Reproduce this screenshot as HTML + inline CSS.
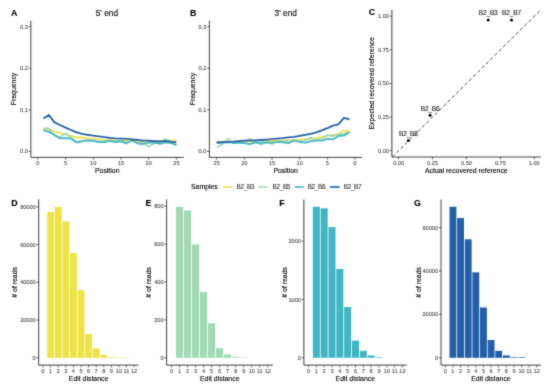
<!DOCTYPE html>
<html><head><meta charset="utf-8"><title>Figure</title>
<style>
html,body{margin:0;padding:0;background:#fff;width:550px;height:387px;overflow:hidden}
svg{display:block;font-family:"Liberation Sans", sans-serif}
</style></head><body>
<svg width="550" height="387" viewBox="0 0 550 387">
<defs><filter id="soft" x="-5%" y="-5%" width="110%" height="110%"><feConvolveMatrix order="3" kernelMatrix="1 2 1 2 16 2 1 2 1" preserveAlpha="false" edgeMode="duplicate"/></filter></defs>
<rect x="0" y="0" width="550" height="387" fill="#fff"/>
<g filter="url(#soft)">
<text x="11" y="15.5" font-size="8.8" text-anchor="start" fill="#000" stroke="#000" stroke-width="0.12" font-weight="bold">A</text>
<text x="106.9" y="15.5" font-size="8.3" text-anchor="middle" fill="#000" stroke="#000" stroke-width="0.12" font-weight="normal">5' end</text>
<polyline points="43.34,128.6 48.89,129.4 54.43,131.4 59.98,133 65.52,134.3 71.06,135.8 76.61,137.5 82.15,137.5 87.7,138.3 93.24,138.6 98.78,139.3 104.33,139.8 109.87,140.1 115.42,140.3 120.96,140.3 126.5,140.5 132.05,140.8 137.59,141 143.14,141.2 148.68,141.3 154.22,141.4 159.77,141.5 165.31,141 170.86,140.5 176.4,140.8" fill="none" stroke="#ECE344" stroke-width="1.8" stroke-linejoin="round" stroke-linecap="butt"/>
<polyline points="43.34,128.4 48.89,128.4 54.43,135.3 59.98,137.4 65.52,133.3 71.06,137.7 76.61,142 82.15,141 87.7,140.3 93.24,140.5 98.78,141.5 104.33,141 109.87,140.8 115.42,141.5 120.96,141 126.5,142 132.05,140.5 137.59,143 143.14,142.5 148.68,146.7 154.22,143.3 159.77,142.5 165.31,139 170.86,141.5 176.4,144" fill="none" stroke="#A1DAB4" stroke-width="1.8" stroke-linejoin="round" stroke-linecap="butt"/>
<polyline points="43.34,130.2 48.89,131.9 54.43,134.8 59.98,138.4 65.52,138.1 71.06,138.4 76.61,142.4 82.15,141.4 87.7,140.3 93.24,140.8 98.78,142.1 104.33,142 109.87,140.9 115.42,142 120.96,141.3 126.5,143.3 132.05,140.3 137.59,143.6 143.14,144 148.68,142.5 154.22,142.3 159.77,144 165.31,142.5 170.86,142.8 176.4,145.2" fill="none" stroke="#41B6C4" stroke-width="1.8" stroke-linejoin="round" stroke-linecap="butt"/>
<polyline points="43.34,118.5 48.89,115 54.43,122.4 59.98,125 65.52,127.6 71.06,130 76.61,132.4 82.15,133.8 87.7,134.8 93.24,135.7 98.78,136.4 104.33,137.2 109.87,138 115.42,138.4 120.96,138.6 126.5,138.8 132.05,139.4 137.59,140 143.14,140.6 148.68,140.7 154.22,141.1 159.77,141.5 165.31,140.9 170.86,141.7 176.4,142.1" fill="none" stroke="#225EA8" stroke-width="1.8" stroke-linejoin="round" stroke-linecap="butt"/>
<path d="M30.85 20.7V157.4H183.6" fill="none" stroke="#2b2b2b" stroke-width="0.9"/>
<line x1="28.65" y1="151.4" x2="30.85" y2="151.4" stroke="#333" stroke-width="0.8"/>
<text x="27.85" y="153.4" font-size="5.6" text-anchor="end" fill="#505050" stroke="#505050" stroke-width="0.12" font-weight="normal">0.0</text>
<line x1="28.65" y1="109.83" x2="30.85" y2="109.83" stroke="#333" stroke-width="0.8"/>
<text x="27.85" y="111.83" font-size="5.6" text-anchor="end" fill="#505050" stroke="#505050" stroke-width="0.12" font-weight="normal">0.1</text>
<line x1="28.65" y1="68.26" x2="30.85" y2="68.26" stroke="#333" stroke-width="0.8"/>
<text x="27.85" y="70.26" font-size="5.6" text-anchor="end" fill="#505050" stroke="#505050" stroke-width="0.12" font-weight="normal">0.2</text>
<line x1="28.65" y1="26.69" x2="30.85" y2="26.69" stroke="#333" stroke-width="0.8"/>
<text x="27.85" y="28.69" font-size="5.6" text-anchor="end" fill="#505050" stroke="#505050" stroke-width="0.12" font-weight="normal">0.3</text>
<line x1="37.8" y1="157.4" x2="37.8" y2="159.6" stroke="#333" stroke-width="0.8"/>
<text x="37.8" y="164.9" font-size="5.6" text-anchor="middle" fill="#505050" stroke="#505050" stroke-width="0.12" font-weight="normal">0</text>
<line x1="65.52" y1="157.4" x2="65.52" y2="159.6" stroke="#333" stroke-width="0.8"/>
<text x="65.52" y="164.9" font-size="5.6" text-anchor="middle" fill="#505050" stroke="#505050" stroke-width="0.12" font-weight="normal">5</text>
<line x1="93.24" y1="157.4" x2="93.24" y2="159.6" stroke="#333" stroke-width="0.8"/>
<text x="93.24" y="164.9" font-size="5.6" text-anchor="middle" fill="#505050" stroke="#505050" stroke-width="0.12" font-weight="normal">10</text>
<line x1="120.96" y1="157.4" x2="120.96" y2="159.6" stroke="#333" stroke-width="0.8"/>
<text x="120.96" y="164.9" font-size="5.6" text-anchor="middle" fill="#505050" stroke="#505050" stroke-width="0.12" font-weight="normal">15</text>
<line x1="148.68" y1="157.4" x2="148.68" y2="159.6" stroke="#333" stroke-width="0.8"/>
<text x="148.68" y="164.9" font-size="5.6" text-anchor="middle" fill="#505050" stroke="#505050" stroke-width="0.12" font-weight="normal">20</text>
<line x1="176.4" y1="157.4" x2="176.4" y2="159.6" stroke="#333" stroke-width="0.8"/>
<text x="176.4" y="164.9" font-size="5.6" text-anchor="middle" fill="#505050" stroke="#505050" stroke-width="0.12" font-weight="normal">25</text>
<text x="107.22" y="172.7" font-size="6.9" text-anchor="middle" fill="#000" stroke="#000" stroke-width="0.12" font-weight="normal">Position</text>
<text transform="translate(16.4 89) rotate(-90)" x="0" y="0" font-size="6.9" text-anchor="middle" fill="#000" stroke="#000" stroke-width="0.12">Frequency</text>
<text x="190" y="15.5" font-size="8.8" text-anchor="start" fill="#000" stroke="#000" stroke-width="0.12" font-weight="bold">B</text>
<text x="285.8" y="15.5" font-size="8.3" text-anchor="middle" fill="#000" stroke="#000" stroke-width="0.12" font-weight="normal">3' end</text>
<polyline points="216.7,142 222.23,142 227.76,141.8 233.3,141.7 238.83,141.6 244.36,141.5 249.89,141.5 255.42,141.5 260.96,141.4 266.49,141.2 272.02,141 277.55,140.7 283.08,140.5 288.62,140.3 294.15,140 299.68,139.7 305.21,139.4 310.74,138.8 316.28,138.1 321.81,137.2 327.34,136.2 332.87,134.9 338.4,133.9 343.94,130.4 349.47,131.3" fill="none" stroke="#ECE344" stroke-width="1.8" stroke-linejoin="round" stroke-linecap="butt"/>
<polyline points="216.7,147.5 222.23,144.3 227.76,138.8 233.3,143.2 238.83,142.5 244.36,141.8 249.89,139 255.42,141.5 260.96,142 266.49,141.5 272.02,143.8 277.55,141.5 283.08,141 288.62,141.2 294.15,140.7 299.68,141.3 305.21,140.3 310.74,137.5 316.28,140 321.81,138.8 327.34,134.9 332.87,136.2 338.4,134.2 343.94,133.8 349.47,131.7" fill="none" stroke="#A1DAB4" stroke-width="1.8" stroke-linejoin="round" stroke-linecap="butt"/>
<polyline points="216.7,142.8 222.23,142.8 227.76,142 233.3,142.8 238.83,142.8 244.36,143.2 249.89,144.1 255.42,142.3 260.96,143.8 266.49,142.3 272.02,142.7 277.55,141.8 283.08,142.3 288.62,143.2 294.15,140.3 299.68,142 305.21,142.6 310.74,141.1 316.28,140.7 321.81,140.7 327.34,138.8 332.87,139.4 338.4,135.9 343.94,135.5 349.47,132.3" fill="none" stroke="#41B6C4" stroke-width="1.8" stroke-linejoin="round" stroke-linecap="butt"/>
<polyline points="216.7,142.5 222.23,142.2 227.76,141.9 233.3,141.6 238.83,141.1 244.36,140.6 249.89,140.5 255.42,140.3 260.96,140 266.49,139.6 272.02,139.1 277.55,138.7 283.08,138.2 288.62,137.4 294.15,136.8 299.68,135.9 305.21,134.9 310.74,133.9 316.28,132.3 321.81,130.4 327.34,128.2 332.87,125.6 338.4,124.3 343.94,117.8 349.47,119.4" fill="none" stroke="#225EA8" stroke-width="1.8" stroke-linejoin="round" stroke-linecap="butt"/>
<path d="M209.4 20.7V157.4H362" fill="none" stroke="#2b2b2b" stroke-width="0.9"/>
<line x1="207.2" y1="151.4" x2="209.4" y2="151.4" stroke="#333" stroke-width="0.8"/>
<text x="206.4" y="153.4" font-size="5.6" text-anchor="end" fill="#505050" stroke="#505050" stroke-width="0.12" font-weight="normal">0.0</text>
<line x1="207.2" y1="109.83" x2="209.4" y2="109.83" stroke="#333" stroke-width="0.8"/>
<text x="206.4" y="111.83" font-size="5.6" text-anchor="end" fill="#505050" stroke="#505050" stroke-width="0.12" font-weight="normal">0.1</text>
<line x1="207.2" y1="68.26" x2="209.4" y2="68.26" stroke="#333" stroke-width="0.8"/>
<text x="206.4" y="70.26" font-size="5.6" text-anchor="end" fill="#505050" stroke="#505050" stroke-width="0.12" font-weight="normal">0.2</text>
<line x1="207.2" y1="26.69" x2="209.4" y2="26.69" stroke="#333" stroke-width="0.8"/>
<text x="206.4" y="28.69" font-size="5.6" text-anchor="end" fill="#505050" stroke="#505050" stroke-width="0.12" font-weight="normal">0.3</text>
<line x1="355" y1="157.4" x2="355" y2="159.6" stroke="#333" stroke-width="0.8"/>
<text x="355" y="164.9" font-size="5.6" text-anchor="middle" fill="#505050" stroke="#505050" stroke-width="0.12" font-weight="normal">0</text>
<line x1="327.34" y1="157.4" x2="327.34" y2="159.6" stroke="#333" stroke-width="0.8"/>
<text x="327.34" y="164.9" font-size="5.6" text-anchor="middle" fill="#505050" stroke="#505050" stroke-width="0.12" font-weight="normal">5</text>
<line x1="299.68" y1="157.4" x2="299.68" y2="159.6" stroke="#333" stroke-width="0.8"/>
<text x="299.68" y="164.9" font-size="5.6" text-anchor="middle" fill="#505050" stroke="#505050" stroke-width="0.12" font-weight="normal">10</text>
<line x1="272.02" y1="157.4" x2="272.02" y2="159.6" stroke="#333" stroke-width="0.8"/>
<text x="272.02" y="164.9" font-size="5.6" text-anchor="middle" fill="#505050" stroke="#505050" stroke-width="0.12" font-weight="normal">15</text>
<line x1="244.36" y1="157.4" x2="244.36" y2="159.6" stroke="#333" stroke-width="0.8"/>
<text x="244.36" y="164.9" font-size="5.6" text-anchor="middle" fill="#505050" stroke="#505050" stroke-width="0.12" font-weight="normal">20</text>
<line x1="216.7" y1="157.4" x2="216.7" y2="159.6" stroke="#333" stroke-width="0.8"/>
<text x="216.7" y="164.9" font-size="5.6" text-anchor="middle" fill="#505050" stroke="#505050" stroke-width="0.12" font-weight="normal">25</text>
<text x="285.7" y="172.7" font-size="6.9" text-anchor="middle" fill="#000" stroke="#000" stroke-width="0.12" font-weight="normal">Position</text>
<text transform="translate(195 89) rotate(-90)" x="0" y="0" font-size="6.9" text-anchor="middle" fill="#000" stroke="#000" stroke-width="0.12">Frequency</text>
<text x="368.8" y="15.2" font-size="8.8" text-anchor="start" fill="#000" stroke="#000" stroke-width="0.12" font-weight="bold">C</text>
<line x1="392.24" y1="157" x2="540.76" y2="9.8" stroke="#404040" stroke-width="0.95" stroke-dasharray="3.5 2.5"/>
<circle cx="488.2" cy="20" r="1.5" fill="#000"/>
<text x="488.2" y="15.2" font-size="6.5" text-anchor="middle" fill="#222" stroke="#222" stroke-width="0.12" font-weight="normal" letter-spacing="-0.15">B2_B3</text>
<circle cx="511.5" cy="20" r="1.5" fill="#000"/>
<text x="511.5" y="15.2" font-size="6.5" text-anchor="middle" fill="#222" stroke="#222" stroke-width="0.12" font-weight="normal" letter-spacing="-0.15">B2_B7</text>
<circle cx="430.1" cy="115.3" r="1.5" fill="#000"/>
<text x="430.1" y="110.5" font-size="6.5" text-anchor="middle" fill="#222" stroke="#222" stroke-width="0.12" font-weight="normal" letter-spacing="-0.15">B2_B6</text>
<circle cx="408.4" cy="140.5" r="1.5" fill="#000"/>
<text x="408.4" y="135.7" font-size="6.5" text-anchor="middle" fill="#222" stroke="#222" stroke-width="0.12" font-weight="normal" letter-spacing="-0.15">B2_B8</text>
<path d="M391.9 9.8V157H540.8" fill="none" stroke="#2b2b2b" stroke-width="0.9"/>
<line x1="389.7" y1="150.7" x2="391.9" y2="150.7" stroke="#333" stroke-width="0.8"/>
<text x="388.9" y="152.7" font-size="5.6" text-anchor="end" fill="#505050" stroke="#505050" stroke-width="0.12" font-weight="normal">0.00</text>
<line x1="389.7" y1="117.07" x2="391.9" y2="117.07" stroke="#333" stroke-width="0.8"/>
<text x="388.9" y="119.07" font-size="5.6" text-anchor="end" fill="#505050" stroke="#505050" stroke-width="0.12" font-weight="normal">0.25</text>
<line x1="389.7" y1="83.45" x2="391.9" y2="83.45" stroke="#333" stroke-width="0.8"/>
<text x="388.9" y="85.45" font-size="5.6" text-anchor="end" fill="#505050" stroke="#505050" stroke-width="0.12" font-weight="normal">0.50</text>
<line x1="389.7" y1="49.82" x2="391.9" y2="49.82" stroke="#333" stroke-width="0.8"/>
<text x="388.9" y="51.82" font-size="5.6" text-anchor="end" fill="#505050" stroke="#505050" stroke-width="0.12" font-weight="normal">0.75</text>
<line x1="389.7" y1="16.2" x2="391.9" y2="16.2" stroke="#333" stroke-width="0.8"/>
<text x="388.9" y="18.2" font-size="5.6" text-anchor="end" fill="#505050" stroke="#505050" stroke-width="0.12" font-weight="normal">1.00</text>
<line x1="398.6" y1="157" x2="398.6" y2="159.2" stroke="#333" stroke-width="0.8"/>
<text x="398.6" y="164.9" font-size="5.6" text-anchor="middle" fill="#505050" stroke="#505050" stroke-width="0.12" font-weight="normal">0.00</text>
<line x1="432.53" y1="157" x2="432.53" y2="159.2" stroke="#333" stroke-width="0.8"/>
<text x="432.53" y="164.9" font-size="5.6" text-anchor="middle" fill="#505050" stroke="#505050" stroke-width="0.12" font-weight="normal">0.25</text>
<line x1="466.45" y1="157" x2="466.45" y2="159.2" stroke="#333" stroke-width="0.8"/>
<text x="466.45" y="164.9" font-size="5.6" text-anchor="middle" fill="#505050" stroke="#505050" stroke-width="0.12" font-weight="normal">0.50</text>
<line x1="500.38" y1="157" x2="500.38" y2="159.2" stroke="#333" stroke-width="0.8"/>
<text x="500.38" y="164.9" font-size="5.6" text-anchor="middle" fill="#505050" stroke="#505050" stroke-width="0.12" font-weight="normal">0.75</text>
<line x1="534.3" y1="157" x2="534.3" y2="159.2" stroke="#333" stroke-width="0.8"/>
<text x="534.3" y="164.9" font-size="5.6" text-anchor="middle" fill="#505050" stroke="#505050" stroke-width="0.12" font-weight="normal">1.00</text>
<text x="466.35" y="173" font-size="6.9" text-anchor="middle" fill="#000" stroke="#000" stroke-width="0.12" font-weight="normal">Actual recovered reference</text>
<text transform="translate(374 83.4) rotate(-90)" x="0" y="0" font-size="6.9" text-anchor="middle" fill="#000" stroke="#000" stroke-width="0.12">Expected recovered reference</text>
<text x="191" y="189.2" font-size="6.9" text-anchor="start" fill="#000" stroke="#000" stroke-width="0.12" font-weight="normal">Samples</text>
<line x1="223" y1="187" x2="232.1" y2="187" stroke="#ECE344" stroke-width="1.6"/>
<text x="236.6" y="189.1" font-size="6.3" text-anchor="start" fill="#333" stroke="#333" stroke-width="0.12" font-weight="normal" letter-spacing="-0.3">B2_B3</text>
<line x1="258.5" y1="187" x2="267.7" y2="187" stroke="#A1DAB4" stroke-width="1.6"/>
<text x="272.6" y="189.1" font-size="6.3" text-anchor="start" fill="#333" stroke="#333" stroke-width="0.12" font-weight="normal" letter-spacing="-0.3">B2_B5</text>
<line x1="294.7" y1="187" x2="303.8" y2="187" stroke="#41B6C4" stroke-width="1.6"/>
<text x="307.7" y="189.1" font-size="6.3" text-anchor="start" fill="#333" stroke="#333" stroke-width="0.12" font-weight="normal" letter-spacing="-0.3">B2_B6</text>
<line x1="330" y1="187" x2="339.5" y2="187" stroke="#225EA8" stroke-width="1.6"/>
<text x="343.8" y="189.1" font-size="6.3" text-anchor="start" fill="#333" stroke="#333" stroke-width="0.12" font-weight="normal" letter-spacing="-0.3">B2_B7</text>
<text x="11.2" y="205.6" font-size="8.8" text-anchor="start" fill="#000" stroke="#000" stroke-width="0.12" font-weight="bold">D</text>
<rect x="47.27" y="211.99" width="6.82" height="145.81" fill="#ECE344"/>
<rect x="54.85" y="206.9" width="6.82" height="150.9" fill="#ECE344"/>
<rect x="62.44" y="221.42" width="6.82" height="136.38" fill="#ECE344"/>
<rect x="70.02" y="253.11" width="6.82" height="104.69" fill="#ECE344"/>
<rect x="77.6" y="290.27" width="6.82" height="67.53" fill="#ECE344"/>
<rect x="85.19" y="334.03" width="6.82" height="23.77" fill="#ECE344"/>
<rect x="92.77" y="348.37" width="6.82" height="9.43" fill="#ECE344"/>
<rect x="100.35" y="354.97" width="6.82" height="2.83" fill="#ECE344"/>
<rect x="107.93" y="357.05" width="6.82" height="0.75" fill="#ECE344"/>
<rect x="115.52" y="357.42" width="6.82" height="0.38" fill="#ECE344"/>
<rect x="123.1" y="357.52" width="6.82" height="0.3" fill="#ECE344"/>
<path d="M38.7 199.6V365.1H138.4" fill="none" stroke="#2b2b2b" stroke-width="0.9"/>
<line x1="36.5" y1="357.8" x2="38.7" y2="357.8" stroke="#333" stroke-width="0.8"/>
<text x="35.7" y="359.8" font-size="5.6" text-anchor="end" fill="#505050" stroke="#505050" stroke-width="0.12" font-weight="normal">0</text>
<line x1="36.5" y1="320.07" x2="38.7" y2="320.07" stroke="#333" stroke-width="0.8"/>
<text x="35.7" y="322.07" font-size="5.6" text-anchor="end" fill="#505050" stroke="#505050" stroke-width="0.12" font-weight="normal">20000</text>
<line x1="36.5" y1="282.35" x2="38.7" y2="282.35" stroke="#333" stroke-width="0.8"/>
<text x="35.7" y="284.35" font-size="5.6" text-anchor="end" fill="#505050" stroke="#505050" stroke-width="0.12" font-weight="normal">40000</text>
<line x1="36.5" y1="244.62" x2="38.7" y2="244.62" stroke="#333" stroke-width="0.8"/>
<text x="35.7" y="246.62" font-size="5.6" text-anchor="end" fill="#505050" stroke="#505050" stroke-width="0.12" font-weight="normal">60000</text>
<line x1="36.5" y1="206.9" x2="38.7" y2="206.9" stroke="#333" stroke-width="0.8"/>
<text x="35.7" y="208.9" font-size="5.6" text-anchor="end" fill="#505050" stroke="#505050" stroke-width="0.12" font-weight="normal">80000</text>
<line x1="43.1" y1="365.1" x2="43.1" y2="367.3" stroke="#333" stroke-width="0.8"/>
<text x="43.1" y="372.6" font-size="5.6" text-anchor="middle" fill="#505050" stroke="#505050" stroke-width="0.12" font-weight="normal">0</text>
<line x1="50.68" y1="365.1" x2="50.68" y2="367.3" stroke="#333" stroke-width="0.8"/>
<text x="50.68" y="372.6" font-size="5.6" text-anchor="middle" fill="#505050" stroke="#505050" stroke-width="0.12" font-weight="normal">1</text>
<line x1="58.27" y1="365.1" x2="58.27" y2="367.3" stroke="#333" stroke-width="0.8"/>
<text x="58.27" y="372.6" font-size="5.6" text-anchor="middle" fill="#505050" stroke="#505050" stroke-width="0.12" font-weight="normal">2</text>
<line x1="65.85" y1="365.1" x2="65.85" y2="367.3" stroke="#333" stroke-width="0.8"/>
<text x="65.85" y="372.6" font-size="5.6" text-anchor="middle" fill="#505050" stroke="#505050" stroke-width="0.12" font-weight="normal">3</text>
<line x1="73.43" y1="365.1" x2="73.43" y2="367.3" stroke="#333" stroke-width="0.8"/>
<text x="73.43" y="372.6" font-size="5.6" text-anchor="middle" fill="#505050" stroke="#505050" stroke-width="0.12" font-weight="normal">4</text>
<line x1="81.02" y1="365.1" x2="81.02" y2="367.3" stroke="#333" stroke-width="0.8"/>
<text x="81.02" y="372.6" font-size="5.6" text-anchor="middle" fill="#505050" stroke="#505050" stroke-width="0.12" font-weight="normal">5</text>
<line x1="88.6" y1="365.1" x2="88.6" y2="367.3" stroke="#333" stroke-width="0.8"/>
<text x="88.6" y="372.6" font-size="5.6" text-anchor="middle" fill="#505050" stroke="#505050" stroke-width="0.12" font-weight="normal">6</text>
<line x1="96.18" y1="365.1" x2="96.18" y2="367.3" stroke="#333" stroke-width="0.8"/>
<text x="96.18" y="372.6" font-size="5.6" text-anchor="middle" fill="#505050" stroke="#505050" stroke-width="0.12" font-weight="normal">7</text>
<line x1="103.76" y1="365.1" x2="103.76" y2="367.3" stroke="#333" stroke-width="0.8"/>
<text x="103.76" y="372.6" font-size="5.6" text-anchor="middle" fill="#505050" stroke="#505050" stroke-width="0.12" font-weight="normal">8</text>
<line x1="111.35" y1="365.1" x2="111.35" y2="367.3" stroke="#333" stroke-width="0.8"/>
<text x="111.35" y="372.6" font-size="5.6" text-anchor="middle" fill="#505050" stroke="#505050" stroke-width="0.12" font-weight="normal">9</text>
<line x1="118.93" y1="365.1" x2="118.93" y2="367.3" stroke="#333" stroke-width="0.8"/>
<text x="118.93" y="372.6" font-size="5.6" text-anchor="middle" fill="#505050" stroke="#505050" stroke-width="0.12" font-weight="normal">10</text>
<line x1="126.51" y1="365.1" x2="126.51" y2="367.3" stroke="#333" stroke-width="0.8"/>
<text x="126.51" y="372.6" font-size="5.6" text-anchor="middle" fill="#505050" stroke="#505050" stroke-width="0.12" font-weight="normal">11</text>
<line x1="134.1" y1="365.1" x2="134.1" y2="367.3" stroke="#333" stroke-width="0.8"/>
<text x="134.1" y="372.6" font-size="5.6" text-anchor="middle" fill="#505050" stroke="#505050" stroke-width="0.12" font-weight="normal">12</text>
<text x="88.55" y="381" font-size="6.9" text-anchor="middle" fill="#000" stroke="#000" stroke-width="0.12" font-weight="normal">Edit distance</text>
<text transform="translate(17.4 282.35) rotate(-90)" x="0" y="0" font-size="6.9" text-anchor="middle" fill="#000" stroke="#000" stroke-width="0.12"># of reads</text>
<text x="145.6" y="205.6" font-size="8.8" text-anchor="start" fill="#000" stroke="#000" stroke-width="0.12" font-weight="bold">E</text>
<rect x="175.91" y="206.77" width="7.22" height="151.03" fill="#A1DAB4"/>
<rect x="183.94" y="210.37" width="7.22" height="147.43" fill="#A1DAB4"/>
<rect x="191.96" y="244.48" width="7.22" height="113.32" fill="#A1DAB4"/>
<rect x="199.99" y="291.85" width="7.22" height="65.95" fill="#A1DAB4"/>
<rect x="208.01" y="323.31" width="7.22" height="34.49" fill="#A1DAB4"/>
<rect x="216.04" y="348.14" width="7.22" height="9.66" fill="#A1DAB4"/>
<rect x="224.06" y="354.39" width="7.22" height="3.41" fill="#A1DAB4"/>
<rect x="232.09" y="356.85" width="7.22" height="0.95" fill="#A1DAB4"/>
<rect x="240.11" y="357.42" width="7.22" height="0.38" fill="#A1DAB4"/>
<path d="M166.6 199.6V365.1H272.9" fill="none" stroke="#2b2b2b" stroke-width="0.9"/>
<line x1="164.4" y1="357.8" x2="166.6" y2="357.8" stroke="#333" stroke-width="0.8"/>
<text x="163.6" y="359.8" font-size="5.6" text-anchor="end" fill="#505050" stroke="#505050" stroke-width="0.12" font-weight="normal">0</text>
<line x1="164.4" y1="319.9" x2="166.6" y2="319.9" stroke="#333" stroke-width="0.8"/>
<text x="163.6" y="321.9" font-size="5.6" text-anchor="end" fill="#505050" stroke="#505050" stroke-width="0.12" font-weight="normal">200</text>
<line x1="164.4" y1="282" x2="166.6" y2="282" stroke="#333" stroke-width="0.8"/>
<text x="163.6" y="284" font-size="5.6" text-anchor="end" fill="#505050" stroke="#505050" stroke-width="0.12" font-weight="normal">400</text>
<line x1="164.4" y1="244.1" x2="166.6" y2="244.1" stroke="#333" stroke-width="0.8"/>
<text x="163.6" y="246.1" font-size="5.6" text-anchor="end" fill="#505050" stroke="#505050" stroke-width="0.12" font-weight="normal">600</text>
<line x1="164.4" y1="206.2" x2="166.6" y2="206.2" stroke="#333" stroke-width="0.8"/>
<text x="163.6" y="208.2" font-size="5.6" text-anchor="end" fill="#505050" stroke="#505050" stroke-width="0.12" font-weight="normal">800</text>
<line x1="171.5" y1="365.1" x2="171.5" y2="367.3" stroke="#333" stroke-width="0.8"/>
<text x="171.5" y="372.6" font-size="5.6" text-anchor="middle" fill="#505050" stroke="#505050" stroke-width="0.12" font-weight="normal">0</text>
<line x1="179.53" y1="365.1" x2="179.53" y2="367.3" stroke="#333" stroke-width="0.8"/>
<text x="179.53" y="372.6" font-size="5.6" text-anchor="middle" fill="#505050" stroke="#505050" stroke-width="0.12" font-weight="normal">1</text>
<line x1="187.55" y1="365.1" x2="187.55" y2="367.3" stroke="#333" stroke-width="0.8"/>
<text x="187.55" y="372.6" font-size="5.6" text-anchor="middle" fill="#505050" stroke="#505050" stroke-width="0.12" font-weight="normal">2</text>
<line x1="195.57" y1="365.1" x2="195.57" y2="367.3" stroke="#333" stroke-width="0.8"/>
<text x="195.57" y="372.6" font-size="5.6" text-anchor="middle" fill="#505050" stroke="#505050" stroke-width="0.12" font-weight="normal">3</text>
<line x1="203.6" y1="365.1" x2="203.6" y2="367.3" stroke="#333" stroke-width="0.8"/>
<text x="203.6" y="372.6" font-size="5.6" text-anchor="middle" fill="#505050" stroke="#505050" stroke-width="0.12" font-weight="normal">4</text>
<line x1="211.62" y1="365.1" x2="211.62" y2="367.3" stroke="#333" stroke-width="0.8"/>
<text x="211.62" y="372.6" font-size="5.6" text-anchor="middle" fill="#505050" stroke="#505050" stroke-width="0.12" font-weight="normal">5</text>
<line x1="219.65" y1="365.1" x2="219.65" y2="367.3" stroke="#333" stroke-width="0.8"/>
<text x="219.65" y="372.6" font-size="5.6" text-anchor="middle" fill="#505050" stroke="#505050" stroke-width="0.12" font-weight="normal">6</text>
<line x1="227.68" y1="365.1" x2="227.68" y2="367.3" stroke="#333" stroke-width="0.8"/>
<text x="227.68" y="372.6" font-size="5.6" text-anchor="middle" fill="#505050" stroke="#505050" stroke-width="0.12" font-weight="normal">7</text>
<line x1="235.7" y1="365.1" x2="235.7" y2="367.3" stroke="#333" stroke-width="0.8"/>
<text x="235.7" y="372.6" font-size="5.6" text-anchor="middle" fill="#505050" stroke="#505050" stroke-width="0.12" font-weight="normal">8</text>
<line x1="243.73" y1="365.1" x2="243.73" y2="367.3" stroke="#333" stroke-width="0.8"/>
<text x="243.73" y="372.6" font-size="5.6" text-anchor="middle" fill="#505050" stroke="#505050" stroke-width="0.12" font-weight="normal">9</text>
<line x1="251.75" y1="365.1" x2="251.75" y2="367.3" stroke="#333" stroke-width="0.8"/>
<text x="251.75" y="372.6" font-size="5.6" text-anchor="middle" fill="#505050" stroke="#505050" stroke-width="0.12" font-weight="normal">10</text>
<line x1="259.77" y1="365.1" x2="259.77" y2="367.3" stroke="#333" stroke-width="0.8"/>
<text x="259.77" y="372.6" font-size="5.6" text-anchor="middle" fill="#505050" stroke="#505050" stroke-width="0.12" font-weight="normal">11</text>
<line x1="267.8" y1="365.1" x2="267.8" y2="367.3" stroke="#333" stroke-width="0.8"/>
<text x="267.8" y="372.6" font-size="5.6" text-anchor="middle" fill="#505050" stroke="#505050" stroke-width="0.12" font-weight="normal">12</text>
<text x="219.75" y="381" font-size="6.9" text-anchor="middle" fill="#000" stroke="#000" stroke-width="0.12" font-weight="normal">Edit distance</text>
<text transform="translate(151.4 282.35) rotate(-90)" x="0" y="0" font-size="6.9" text-anchor="middle" fill="#000" stroke="#000" stroke-width="0.12"># of reads</text>
<text x="279.3" y="205.6" font-size="8.8" text-anchor="start" fill="#000" stroke="#000" stroke-width="0.12" font-weight="bold">F</text>
<rect x="312.81" y="206.8" width="7.05" height="151" fill="#41B6C4"/>
<rect x="320.64" y="208.32" width="7.05" height="149.48" fill="#41B6C4"/>
<rect x="328.47" y="227.09" width="7.05" height="130.71" fill="#41B6C4"/>
<rect x="336.3" y="268.89" width="7.05" height="88.91" fill="#41B6C4"/>
<rect x="344.13" y="307.02" width="7.05" height="50.78" fill="#41B6C4"/>
<rect x="351.96" y="340.6" width="7.05" height="17.2" fill="#41B6C4"/>
<rect x="359.79" y="350.8" width="7.05" height="7" fill="#41B6C4"/>
<rect x="367.62" y="355.41" width="7.05" height="2.39" fill="#41B6C4"/>
<rect x="375.45" y="357.22" width="7.05" height="0.58" fill="#41B6C4"/>
<path d="M303.9 199.6V365.1H406.7" fill="none" stroke="#2b2b2b" stroke-width="0.9"/>
<line x1="301.7" y1="357.8" x2="303.9" y2="357.8" stroke="#333" stroke-width="0.8"/>
<text x="300.9" y="359.8" font-size="5.6" text-anchor="end" fill="#505050" stroke="#505050" stroke-width="0.12" font-weight="normal">0</text>
<line x1="301.7" y1="299.5" x2="303.9" y2="299.5" stroke="#333" stroke-width="0.8"/>
<text x="300.9" y="301.5" font-size="5.6" text-anchor="end" fill="#505050" stroke="#505050" stroke-width="0.12" font-weight="normal">1000</text>
<line x1="301.7" y1="241.2" x2="303.9" y2="241.2" stroke="#333" stroke-width="0.8"/>
<text x="300.9" y="243.2" font-size="5.6" text-anchor="end" fill="#505050" stroke="#505050" stroke-width="0.12" font-weight="normal">2000</text>
<line x1="308.5" y1="365.1" x2="308.5" y2="367.3" stroke="#333" stroke-width="0.8"/>
<text x="308.5" y="372.6" font-size="5.6" text-anchor="middle" fill="#505050" stroke="#505050" stroke-width="0.12" font-weight="normal">0</text>
<line x1="316.33" y1="365.1" x2="316.33" y2="367.3" stroke="#333" stroke-width="0.8"/>
<text x="316.33" y="372.6" font-size="5.6" text-anchor="middle" fill="#505050" stroke="#505050" stroke-width="0.12" font-weight="normal">1</text>
<line x1="324.16" y1="365.1" x2="324.16" y2="367.3" stroke="#333" stroke-width="0.8"/>
<text x="324.16" y="372.6" font-size="5.6" text-anchor="middle" fill="#505050" stroke="#505050" stroke-width="0.12" font-weight="normal">2</text>
<line x1="331.99" y1="365.1" x2="331.99" y2="367.3" stroke="#333" stroke-width="0.8"/>
<text x="331.99" y="372.6" font-size="5.6" text-anchor="middle" fill="#505050" stroke="#505050" stroke-width="0.12" font-weight="normal">3</text>
<line x1="339.82" y1="365.1" x2="339.82" y2="367.3" stroke="#333" stroke-width="0.8"/>
<text x="339.82" y="372.6" font-size="5.6" text-anchor="middle" fill="#505050" stroke="#505050" stroke-width="0.12" font-weight="normal">4</text>
<line x1="347.65" y1="365.1" x2="347.65" y2="367.3" stroke="#333" stroke-width="0.8"/>
<text x="347.65" y="372.6" font-size="5.6" text-anchor="middle" fill="#505050" stroke="#505050" stroke-width="0.12" font-weight="normal">5</text>
<line x1="355.48" y1="365.1" x2="355.48" y2="367.3" stroke="#333" stroke-width="0.8"/>
<text x="355.48" y="372.6" font-size="5.6" text-anchor="middle" fill="#505050" stroke="#505050" stroke-width="0.12" font-weight="normal">6</text>
<line x1="363.31" y1="365.1" x2="363.31" y2="367.3" stroke="#333" stroke-width="0.8"/>
<text x="363.31" y="372.6" font-size="5.6" text-anchor="middle" fill="#505050" stroke="#505050" stroke-width="0.12" font-weight="normal">7</text>
<line x1="371.14" y1="365.1" x2="371.14" y2="367.3" stroke="#333" stroke-width="0.8"/>
<text x="371.14" y="372.6" font-size="5.6" text-anchor="middle" fill="#505050" stroke="#505050" stroke-width="0.12" font-weight="normal">8</text>
<line x1="378.97" y1="365.1" x2="378.97" y2="367.3" stroke="#333" stroke-width="0.8"/>
<text x="378.97" y="372.6" font-size="5.6" text-anchor="middle" fill="#505050" stroke="#505050" stroke-width="0.12" font-weight="normal">9</text>
<line x1="386.8" y1="365.1" x2="386.8" y2="367.3" stroke="#333" stroke-width="0.8"/>
<text x="386.8" y="372.6" font-size="5.6" text-anchor="middle" fill="#505050" stroke="#505050" stroke-width="0.12" font-weight="normal">10</text>
<line x1="394.63" y1="365.1" x2="394.63" y2="367.3" stroke="#333" stroke-width="0.8"/>
<text x="394.63" y="372.6" font-size="5.6" text-anchor="middle" fill="#505050" stroke="#505050" stroke-width="0.12" font-weight="normal">11</text>
<line x1="402.46" y1="365.1" x2="402.46" y2="367.3" stroke="#333" stroke-width="0.8"/>
<text x="402.46" y="372.6" font-size="5.6" text-anchor="middle" fill="#505050" stroke="#505050" stroke-width="0.12" font-weight="normal">12</text>
<text x="355.3" y="381" font-size="6.9" text-anchor="middle" fill="#000" stroke="#000" stroke-width="0.12" font-weight="normal">Edit distance</text>
<text transform="translate(287.4 282.35) rotate(-90)" x="0" y="0" font-size="6.9" text-anchor="middle" fill="#000" stroke="#000" stroke-width="0.12"># of reads</text>
<text x="414" y="205.6" font-size="8.8" text-anchor="start" fill="#000" stroke="#000" stroke-width="0.12" font-weight="bold">G</text>
<rect x="449.5" y="206.77" width="6.87" height="151.03" fill="#225EA8"/>
<rect x="457.13" y="218.05" width="6.87" height="139.75" fill="#225EA8"/>
<rect x="464.76" y="239.32" width="6.87" height="118.48" fill="#225EA8"/>
<rect x="472.39" y="272.3" width="6.87" height="85.5" fill="#225EA8"/>
<rect x="480.02" y="307.46" width="6.87" height="50.34" fill="#225EA8"/>
<rect x="487.65" y="340.01" width="6.87" height="17.79" fill="#225EA8"/>
<rect x="495.28" y="350.86" width="6.87" height="6.94" fill="#225EA8"/>
<rect x="502.91" y="355.41" width="6.87" height="2.39" fill="#225EA8"/>
<rect x="510.54" y="357.15" width="6.87" height="0.65" fill="#225EA8"/>
<rect x="518.17" y="357.15" width="6.87" height="0.65" fill="#225EA8"/>
<path d="M441 199.6V365.1H540.9" fill="none" stroke="#2b2b2b" stroke-width="0.9"/>
<line x1="438.8" y1="357.8" x2="441" y2="357.8" stroke="#333" stroke-width="0.8"/>
<text x="438" y="359.8" font-size="5.6" text-anchor="end" fill="#505050" stroke="#505050" stroke-width="0.12" font-weight="normal">0</text>
<line x1="438.8" y1="314.4" x2="441" y2="314.4" stroke="#333" stroke-width="0.8"/>
<text x="438" y="316.4" font-size="5.6" text-anchor="end" fill="#505050" stroke="#505050" stroke-width="0.12" font-weight="normal">20000</text>
<line x1="438.8" y1="271" x2="441" y2="271" stroke="#333" stroke-width="0.8"/>
<text x="438" y="273" font-size="5.6" text-anchor="end" fill="#505050" stroke="#505050" stroke-width="0.12" font-weight="normal">40000</text>
<line x1="438.8" y1="227.6" x2="441" y2="227.6" stroke="#333" stroke-width="0.8"/>
<text x="438" y="229.6" font-size="5.6" text-anchor="end" fill="#505050" stroke="#505050" stroke-width="0.12" font-weight="normal">60000</text>
<line x1="445.3" y1="365.1" x2="445.3" y2="367.3" stroke="#333" stroke-width="0.8"/>
<text x="445.3" y="372.6" font-size="5.6" text-anchor="middle" fill="#505050" stroke="#505050" stroke-width="0.12" font-weight="normal">0</text>
<line x1="452.93" y1="365.1" x2="452.93" y2="367.3" stroke="#333" stroke-width="0.8"/>
<text x="452.93" y="372.6" font-size="5.6" text-anchor="middle" fill="#505050" stroke="#505050" stroke-width="0.12" font-weight="normal">1</text>
<line x1="460.56" y1="365.1" x2="460.56" y2="367.3" stroke="#333" stroke-width="0.8"/>
<text x="460.56" y="372.6" font-size="5.6" text-anchor="middle" fill="#505050" stroke="#505050" stroke-width="0.12" font-weight="normal">2</text>
<line x1="468.19" y1="365.1" x2="468.19" y2="367.3" stroke="#333" stroke-width="0.8"/>
<text x="468.19" y="372.6" font-size="5.6" text-anchor="middle" fill="#505050" stroke="#505050" stroke-width="0.12" font-weight="normal">3</text>
<line x1="475.82" y1="365.1" x2="475.82" y2="367.3" stroke="#333" stroke-width="0.8"/>
<text x="475.82" y="372.6" font-size="5.6" text-anchor="middle" fill="#505050" stroke="#505050" stroke-width="0.12" font-weight="normal">4</text>
<line x1="483.45" y1="365.1" x2="483.45" y2="367.3" stroke="#333" stroke-width="0.8"/>
<text x="483.45" y="372.6" font-size="5.6" text-anchor="middle" fill="#505050" stroke="#505050" stroke-width="0.12" font-weight="normal">5</text>
<line x1="491.08" y1="365.1" x2="491.08" y2="367.3" stroke="#333" stroke-width="0.8"/>
<text x="491.08" y="372.6" font-size="5.6" text-anchor="middle" fill="#505050" stroke="#505050" stroke-width="0.12" font-weight="normal">6</text>
<line x1="498.71" y1="365.1" x2="498.71" y2="367.3" stroke="#333" stroke-width="0.8"/>
<text x="498.71" y="372.6" font-size="5.6" text-anchor="middle" fill="#505050" stroke="#505050" stroke-width="0.12" font-weight="normal">7</text>
<line x1="506.34" y1="365.1" x2="506.34" y2="367.3" stroke="#333" stroke-width="0.8"/>
<text x="506.34" y="372.6" font-size="5.6" text-anchor="middle" fill="#505050" stroke="#505050" stroke-width="0.12" font-weight="normal">8</text>
<line x1="513.97" y1="365.1" x2="513.97" y2="367.3" stroke="#333" stroke-width="0.8"/>
<text x="513.97" y="372.6" font-size="5.6" text-anchor="middle" fill="#505050" stroke="#505050" stroke-width="0.12" font-weight="normal">9</text>
<line x1="521.6" y1="365.1" x2="521.6" y2="367.3" stroke="#333" stroke-width="0.8"/>
<text x="521.6" y="372.6" font-size="5.6" text-anchor="middle" fill="#505050" stroke="#505050" stroke-width="0.12" font-weight="normal">10</text>
<line x1="529.23" y1="365.1" x2="529.23" y2="367.3" stroke="#333" stroke-width="0.8"/>
<text x="529.23" y="372.6" font-size="5.6" text-anchor="middle" fill="#505050" stroke="#505050" stroke-width="0.12" font-weight="normal">11</text>
<line x1="536.86" y1="365.1" x2="536.86" y2="367.3" stroke="#333" stroke-width="0.8"/>
<text x="536.86" y="372.6" font-size="5.6" text-anchor="middle" fill="#505050" stroke="#505050" stroke-width="0.12" font-weight="normal">12</text>
<text x="490.95" y="381" font-size="6.9" text-anchor="middle" fill="#000" stroke="#000" stroke-width="0.12" font-weight="normal">Edit distance</text>
<text transform="translate(420.9 282.35) rotate(-90)" x="0" y="0" font-size="6.9" text-anchor="middle" fill="#000" stroke="#000" stroke-width="0.12"># of reads</text>
</g>
</svg>
</body></html>
